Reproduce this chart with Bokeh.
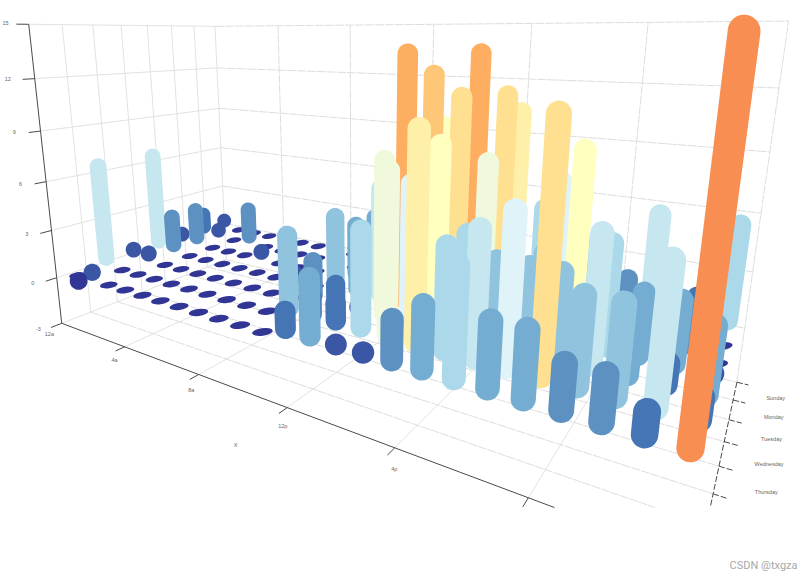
import numpy as np
from bokeh.plotting import figure
from bokeh.models import ColumnDataSource, Range1d
from bokeh.core.properties import value
from bokeh.embed import file_html
from bokeh.resources import INLINE

hours = ['12a', '1a', '2a', '3a', '4a', '5a', '6a', '7a', '8a', '9a', '10a', '11a',
         '12p', '1p', '2p', '3p', '4p', '5p', '6p', '7p', '8p', '9p', '10p', '11p']
days = ['Sunday', 'Monday', 'Tuesday', 'Wednesday', 'Thursday']
z_ticks = [-3, 0, 3, 6, 9, 12, 15]

row0 = [0, 1, 0, 0, 0, 0, 0, 0, 0, 0, 0, 2, 4, 1, 1, 3, 4, 6, 4, 4, 3, 3, 2, 15]
row1 = [7, 0, 0, 0, 0, 0, 0, 0, 0, 0, 5, 2, 2, 6, 9, 11, 6, 7, 8, 12, 5, 5, 7, 2]
row2 = [1, 1, 0, 0, 0, 0, 0, 0, 0, 0, 3, 2, 1, 9, 8, 10, 6, 5, 5, 5, 7, 4, 2, 4]
row3 = [7, 3, 0, 0, 0, 0, 0, 0, 1, 0, 5, 4, 7, 14, 13, 12, 9, 5, 5, 10, 6, 4, 4, 1]
row4 = [1, 3, 0, 0, 0, 1, 0, 0, 0, 2, 4, 4, 2, 4, 4, 14, 12, 1, 8, 5, 3, 7, 3, 0]
row5 = [2, 1, 0, 3, 0, 0, 0, 0, 2, 0, 4, 1, 5, 10, 5, 7, 11, 6, 0, 5, 3, 4, 2, 0]
row6 = [1, 0, 0, 0, 0, 0, 0, 0, 0, 0, 1, 0, 2, 1, 3, 4, 0, 0, 0, 0, 1, 2, 2, 6]
rows = [row0, row1, row2, row3, row4, row5, row6]

palette = ['#313695', '#4575b4', '#74add1', '#abd9e9', '#e0f3f8', '#ffffbf',
           '#fee090', '#fdae61', '#f46d43', '#d73027', '#a50026']
value_max = 20

# camera calibration: (hour, depth, z) <-> screen pixel
calib = [((0, 7, -3), (62, 322)), ((0, 0, -3), (225, 260)), ((24, 0, -3), (737, 382)),
         ((24, 7, -3), (698, 561)), ((0, 7, 15), (27, 23)), ((0, 0, 15), (215, 25)),
         ((24, 0, 15), (787, 21)), ((4, 7, -3), (122, 345)), ((8, 7, -3), (198, 374)),
         ((12, 7, -3), (287, 407)), ((16, 7, -3), (394, 447)), ((20, 7, -3), (528, 497)),
         ((24, 1, -3), (732, 399)), ((24, 2, -3), (729, 419)), ((24, 3, -3), (724, 441)),
         ((24, 4, -3), (719, 466)), ((24, 5, -3), (713, 494)), ((0, 7, 0), (57, 278)),
         ((0, 7, 3), (52, 231)), ((0, 7, 6), (46, 182)), ((0, 7, 9), (40, 131)),
         ((0, 7, 12), (34, 78)), ((0, 0, 0), (223, 222)), ((0, 0, 6), (221, 147)),
         ((0, 0, 12), (217, 68))]


def fit_camera():
    eqs = []
    for (X, Y, Z), (u, v) in calib:
        P = [X / 24, Y / 7, (Z + 3) / 18, 1]
        u, v = u / 800, v / 600
        eqs.append(P + [0, 0, 0, 0] + [-u * c for c in P])
        eqs.append([0, 0, 0, 0] + P + [-v * c for c in P])
    return np.linalg.svd(np.array(eqs))[2][-1].reshape(3, 4)


CAM = fit_camera()


def project(X, Y, Z):
    h = CAM @ np.array([X / 24, Y / 7, (Z + 3) / 18, 1.0])
    return h[0] / h[2] * 800, h[1] / h[2] * 600, abs(h[2])


def colour(val):
    t = min(val / value_max, 1) * (len(palette) - 1)
    i = min(int(t), len(palette) - 2)
    f = t - i
    a = [int(palette[i][j:j + 2], 16) for j in (1, 3, 5)]
    b = [int(palette[i + 1][j:j + 2], 16) for j in (1, 3, 5)]
    return '#%02x%02x%02x' % tuple(round(a[k] + (b[k] - a[k]) * f) for k in range(3))


CLIP_Y = 507


def seg(P, Q):
    ax, ay, _ = project(*P)
    bx, by, _ = project(*Q)
    if ay > CLIP_Y and by > CLIP_Y:
        return None
    if by > CLIP_Y:
        t = (CLIP_Y - ay) / (by - ay)
        bx, by = ax + (bx - ax) * t, CLIP_Y
    if ay > CLIP_Y:
        t = (CLIP_Y - by) / (ay - by)
        ax, ay = bx + (ax - bx) * t, CLIP_Y
    return [ax, bx], [ay, by]


p = figure(width=804, height=573, x_range=Range1d(0, 804), y_range=Range1d(573, 0),
           toolbar_location=None, output_backend="svg", min_border=0)
p.axis.visible = False
p.grid.visible = False
p.outline_line_color = None
p.background_fill_color = "white"


def draw(segs, color, width, dash="solid"):
    xs, ys = [], []
    for P, Q in segs:
        s = seg(P, Q)
        if s:
            xs.append(s[0])
            ys.append(s[1])
    p.multi_line(xs, ys, line_color=color, line_width=width, line_dash=dash)


Zb, Zt = z_ticks[0], z_ticks[-1]
hour_ticks = [4, 8, 12, 16, 20]
depth_ticks = [1, 2, 3, 4, 5, 6]
solid_grid, dash_grid = [], []
for h in hour_ticks:
    solid_grid.append(((h, 0, Zb), (h, 7, Zb)))
    dash_grid.append(((h, 0, Zb), (h, 0, Zt)))
for d in depth_ticks:
    dash_grid.append(((0, d, Zb), (24, d, Zb)))
    solid_grid.append(((0, d, Zb), (0, d, Zt)))
for z in z_ticks[1:]:
    solid_grid.append(((0, 0, z), (0, 7, z)))
    dash_grid.append(((0, 0, z), (24, 0, z)))
dash_grid.append(((0, 0, Zb), (24, 0, Zb)))
solid_grid.append(((0, 0, Zb), (0, 7, Zb)))
solid_grid.append(((0, 0, Zb), (0, 0, Zt)))
dash_grid.append(((24, 0, Zb), (24, 0, Zt)))
draw(solid_grid, "#e2e2e2", 1)
draw(dash_grid, "#dddddd", 1, "9 1")

axis_x = [((0, 7, Zb), (24, 7, Zb))]
axis_x += [((h, 7, Zb), (h, 7.3, Zb)) for h in hour_ticks]
axis_y = [((24, 0, Zb), (24, 7, Zb))]
axis_y += [((24, d, Zb), (24.35, d, Zb)) for d in range(0, 7)]
axis_z = [((0, 7, Zb), (0, 7, Zt))]
axis_z += [((0, 7, z), (0, 7.35, z)) for z in z_ticks]
draw(axis_x, "#4a4a4a", 1)
draw(axis_y, "#4a4a4a", 1, "6 2")
draw(axis_z, "#4a4a4a", 1)

HOUR_SHIFT = 0.5
DEPTH_NEAR, DEPTH_STEP = 6.55, 1.03

# depth scale: tube diameter falls with distance
W_REF = project(0.5, DEPTH_NEAR, 0)[2]


def diameter(X, Y, Z=0):
    return 16.9 * (W_REF / project(X, Y, Z)[2]) ** 0.9


# flat discs for zero counts
ex, ey, ew, eh = [], [], [], []
tubes = []
for r, row in enumerate(rows):
    Y = DEPTH_NEAR - DEPTH_STEP * r
    for h, val in enumerate(row):
        X = h + HOUR_SHIFT
        if val == 0:
            x, y, w = project(X, Y, 0)
            ex.append(x); ey.append(y)
            ew.append(diameter(X, Y) * 1.02); eh.append(diameter(X, Y) * 0.37)
        else:
            tubes.append((X, Y, val, val))
# the lone dark dot at the near edge
stray_hour, stray_depth, stray_height, stray_colour = 1.9, 7.2, 1, 0
tubes.append((stray_hour, stray_depth, stray_height, stray_colour))

p.ellipse(ex, ey, width=ew, height=eh, angle=0.13, width_units="screen",
          height_units="screen", fill_color=palette[0], line_color=None)


def capsule(x0, y0, r0, x1, y1, r1):
    """Outline of a tube from a wide or narrow foot to its top, in screen pixels."""
    L = np.hypot(x1 - x0, y1 - y0)
    if L <= r0 + r1:
        cx, cy, r = (x0 + x1) / 2, (y0 + y1) / 2, (r0 + r1) / 2
        a = np.linspace(0, 2 * np.pi, 40, endpoint=False)
        return list(cx + r * np.cos(a)), list(cy + r * np.sin(a))
    ux, uy = (x1 - x0) / L, (y1 - y0) / L
    base = np.arctan2(uy, ux)
    top_a = base + np.linspace(-np.pi / 2, np.pi / 2, 20)
    bot_a = base + np.linspace(np.pi / 2, 3 * np.pi / 2, 20)
    cx1, cy1 = x1 - ux * r1, y1 - uy * r1
    cx0, cy0 = x0 + ux * r0, y0 + uy * r0
    xs = list(cx1 + r1 * np.cos(top_a)) + list(cx0 + r0 * np.cos(bot_a))
    ys = list(cy1 + r1 * np.sin(top_a)) + list(cy0 + r0 * np.sin(bot_a))
    return xs, ys


tubes.sort(key=lambda t: -project(t[0], t[1], 0)[2])
xs, ys, cs = [], [], []
for h, Y, val, cval in tubes:
    x0, y0, _ = project(h, Y, 0)
    x1, y1, _ = project(h, Y, val)
    ox, oy = capsule(x0, y0, diameter(h, Y, 0) / 2, x1, y1, diameter(h, Y, val) / 2)
    xs.append(ox); ys.append(oy); cs.append(colour(cval))
src = ColumnDataSource(dict(xs=xs, ys=ys, c=cs))
p.patches("xs", "ys", source=src, fill_color="c", line_color=None)

# tick labels
font = value("Liberation Sans")
tx, ty, tt = [], [], []
for h in [0, 4, 8, 12, 16]:
    x, y, _ = project(h, 7.5, Zb)
    tx.append(x + 3 + 0.55 * h); ty.append(y + 5 + 0.25 * h); tt.append(hours[h])
for i, name in enumerate(days):
    x, y, _ = project(25.2, i + 1, Zb)
    tx.append(x); ty.append(y - 13 - 1.5 * i); tt.append(name)
for z in z_ticks:
    x, y, _ = project(0, 7, z)
    tx.append(max(x - 24 - 0.25 * z, 5)); ty.append(y + 5 - 0.4 * z); tt.append(str(z))
tx.append(235); ty.append(444); tt.append("X")
p.text(tx, ty, text=tt, text_font=font, text_font_size="5.5px", text_color="#666666",
       text_align="center", text_baseline="middle")
p.text([797], [565], text=["CSDN @txgza"], text_font=value("Roboto"), text_font_size="11px",
       text_color="#a8a8a8", text_align="right", text_baseline="middle")

open("out.html", "w").write(file_html(p, INLINE))
